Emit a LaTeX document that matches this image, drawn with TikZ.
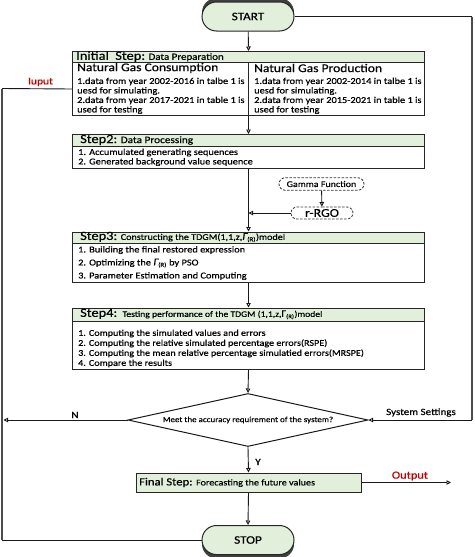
\documentclass[tikz,border=0pt]{standalone}
\usepackage{fontspec}
\setmainfont{Carlito}[FakeStretch=1.15, FakeBold=0.5]
\usetikzlibrary{shapes.geometric,shapes.misc,arrows.meta,positioning}
\definecolor{hdrgreen}{HTML}{E2EFDA}
\definecolor{txtred}{HTML}{C00000}
\newcommand{\fsz}[2]{\fontsize{#1}{#2}\selectfont}
\tikzset{
  hdr/.style={rectangle, draw=black!85, line width=1pt, fill=hdrgreen, minimum width=352pt, inner sep=0pt, anchor=north west},
  body/.style={rectangle, draw=black!85, line width=1pt, fill=white, minimum width=352pt, inner sep=0pt, anchor=north west},
  term/.style={rounded rectangle, draw=black!85, line width=1pt, fill=hdrgreen, minimum width=92pt, minimum height=29pt, inner sep=0pt, font=\fsz{11.5}{13}},
  dbox/.style={rounded rectangle, draw=black!80, dash pattern=on 2.5pt off 1.5pt, line width=0.8pt, inner sep=0pt},
  txt/.style={inner sep=0pt, anchor=west},
  items/.style={inner sep=0pt, anchor=north west, align=left, font=\fsz{9}{9.5}},
  conn/.style={draw=black!90, line width=0.9pt},
  arr/.style={conn, -{Triangle[open,length=4.5pt,width=4.5pt]}},
  rail/.style={draw=black!70, line width=1.8pt},
}
\begin{document}
\begin{tikzpicture}[x=1pt, y=-1pt]
\useasboundingbox (0,0) rectangle (474,557);
% terminals
\node[term, fill=black!75, draw=none] (startsh) at (248,12.5) {};
\node[term] (start) at (248,16.5) {START};
\node[term, fill=black!75, draw=none] (stopsh) at (248,544) {};
\node[term] (stop) at (248,540) {STOP};

% initial step
\node[hdr, minimum height=11pt] (inith) at (72,51) {};
\node[body, minimum height=53pt] (init) at (72,62) {};
\draw[draw=black!85, line width=1pt] (inith.south) -- (init.south);
\node[txt] (initt) at (76,56.5) {{\fsz{12.5}{12}Initial\ \ Step:} {\fsz{9.5}{9}Data Preparation}};
\node[txt, font=\fsz{11.8}{13}] (ngc) at (77,68) {Natural Gas Consumption};
\node[items] (ngci) at (77,77.5) {1.data from year 2002-2016 in talbe 1 is\\uesd for simulating.\\2.data from year 2017-2021 in table 1 is\\used for testing};
\node[txt, font=\fsz{11.8}{13}] (ngp) at (254,68) {Natural Gas Production};
\node[items] (ngpi) at (254,77.5) {1.data from year 2002-2014 in talbe 1 is\\uesd for simulating.\\2.data from year 2015-2021 in table 1 is\\used for testing};

% step 2
\node[hdr, minimum height=12pt] (s2h) at (72,134) {};
\node[body, minimum height=22pt] (s2) at (72,146) {};
\node[txt] (s2t) at (80,140) {{\fsz{12.5}{12}Step2:} {\fsz{9.8}{9}Data Processing}};
\node[items] (s2i) at (78,148.5) {1. Accumulated generating sequences\\2. Generated background value sequence};

% gamma / r-RGO
\node[dbox, minimum width=85pt, minimum height=12.5pt, font=\fsz{8.7}{9}] (gam) at (321.5,184) {Gamma Function};
\node[dbox, minimum width=62pt, minimum height=12pt, font=\fsz{12}{13}] (rgo) at (322,213) {r-RGO};

% step 3
\node[hdr, minimum height=11.5pt] (s3h) at (72,231.5) {};
\node[body, minimum height=39pt] (s3) at (72,243) {};
\node[txt] (s3t) at (80,237) {{\fsz{12.5}{12}Step3:} {\fsz{8.8}{9}Constructing the TDGM(1,1,z,{\fsz{10.5}{11}\itshape Γ}\textsubscript{(R)})model}};
\node[items, font=\fsz{9}{13}] (s3i) at (78,246) {1. Building the final restored expression\\2. Optimizing the {\fsz{10.5}{11}\itshape Γ}\textsubscript{(R)} by PSO\\3. Parameter Estimation and Computing};

% step 4
\node[hdr, minimum height=13.5pt] (s4h) at (72,307.5) {};
\node[body, minimum height=48pt] (s4) at (72,321) {};
\node[txt] (s4t) at (80,314) {{\fsz{12.5}{13}Step4:}\ \ {\fsz{8.4}{9}Testing performance of the TDGM (1,1,z,{\fsz{10}{11}Γ}\textsubscript{(R)})model}};
\node[items, font=\fsz{8.8}{10}] (s4i) at (78,329.5) {1. Computing the simulated values and errors\\2. Computing the relative simulated percentage errors(RSPE)\\3. Computing the mean relative percentage simulatied errors(MRSPE)\\4. Compare the results};

% decision
\node[diamond, draw=black!90, line width=1pt, aspect=4.5, minimum width=240pt, minimum height=53pt, inner sep=0pt, font=\fsz{7.8}{9}] (dia) at (248,420) {Meet the accuracy requirement of the system?};

% final step
\node[rectangle, draw=black!85, line width=1pt, fill=hdrgreen, minimum width=225pt, minimum height=19pt, inner sep=0pt] (fin) at (248.5,482.5) {};
\node[txt] (fint) at (139,482.5) {{\fsz{11}{12}Final Step:} {\fsz{8.8}{9}Forecasting the future values}};

% labels
\node[font=\fsz{10}{11}, text=txtred] (iup) at (40.5,82) {Iuput};
\node[font=\fsz{10}{11}] (nlab) at (75,415) {N};
\node[font=\fsz{10}{11}] (ylab) at (258,462) {Y};
\node[font=\fsz{9.6}{11}] (sys) at (421,412.5) {System Settings};
\node[font=\fsz{10.8}{11}, text=txtred] (outl) at (410,476) {Output};

% outer loops
\coordinate (rt) at (472,16.5);
\coordinate (rb) at (472,420);
\coordinate (lt) at (2,88.5);
\coordinate (lb) at (2,540);
\coordinate (ln) at (3.5,420);
\coordinate (outp) at (451,482.5);

% main flow
\draw[arr] (start) -- (inith.north);
\draw[arr] (init.south) -- (s2h.north);
\draw[arr] (s2.south) -- (s3h.north);
\draw[arr] (gam) -- (rgo);
\draw[arr] (rgo.west) -- (rgo.west -| s2.south);
\draw[arr] (s3.south) -- (s4h.north);
\draw[arr] (s4.south) -- (dia.north);
\draw[arr] (dia.south) -- (fin.north);
\draw[arr] (fin.south) -- (stop.north);
\draw[arr] (fin.east) -- (outp);

\draw[conn] (start.east) -- (rt);
\draw[rail] (rt) -- (rb);
\draw[arr] (rb) -- (dia.east);
\draw[arr] (dia.west) -- (ln);
\draw[conn] (init.west) -- (lt);
\draw[rail] (lt) -- (lb);
\draw[conn] (lb) -- (stop.west);
\end{tikzpicture}
\end{document}
